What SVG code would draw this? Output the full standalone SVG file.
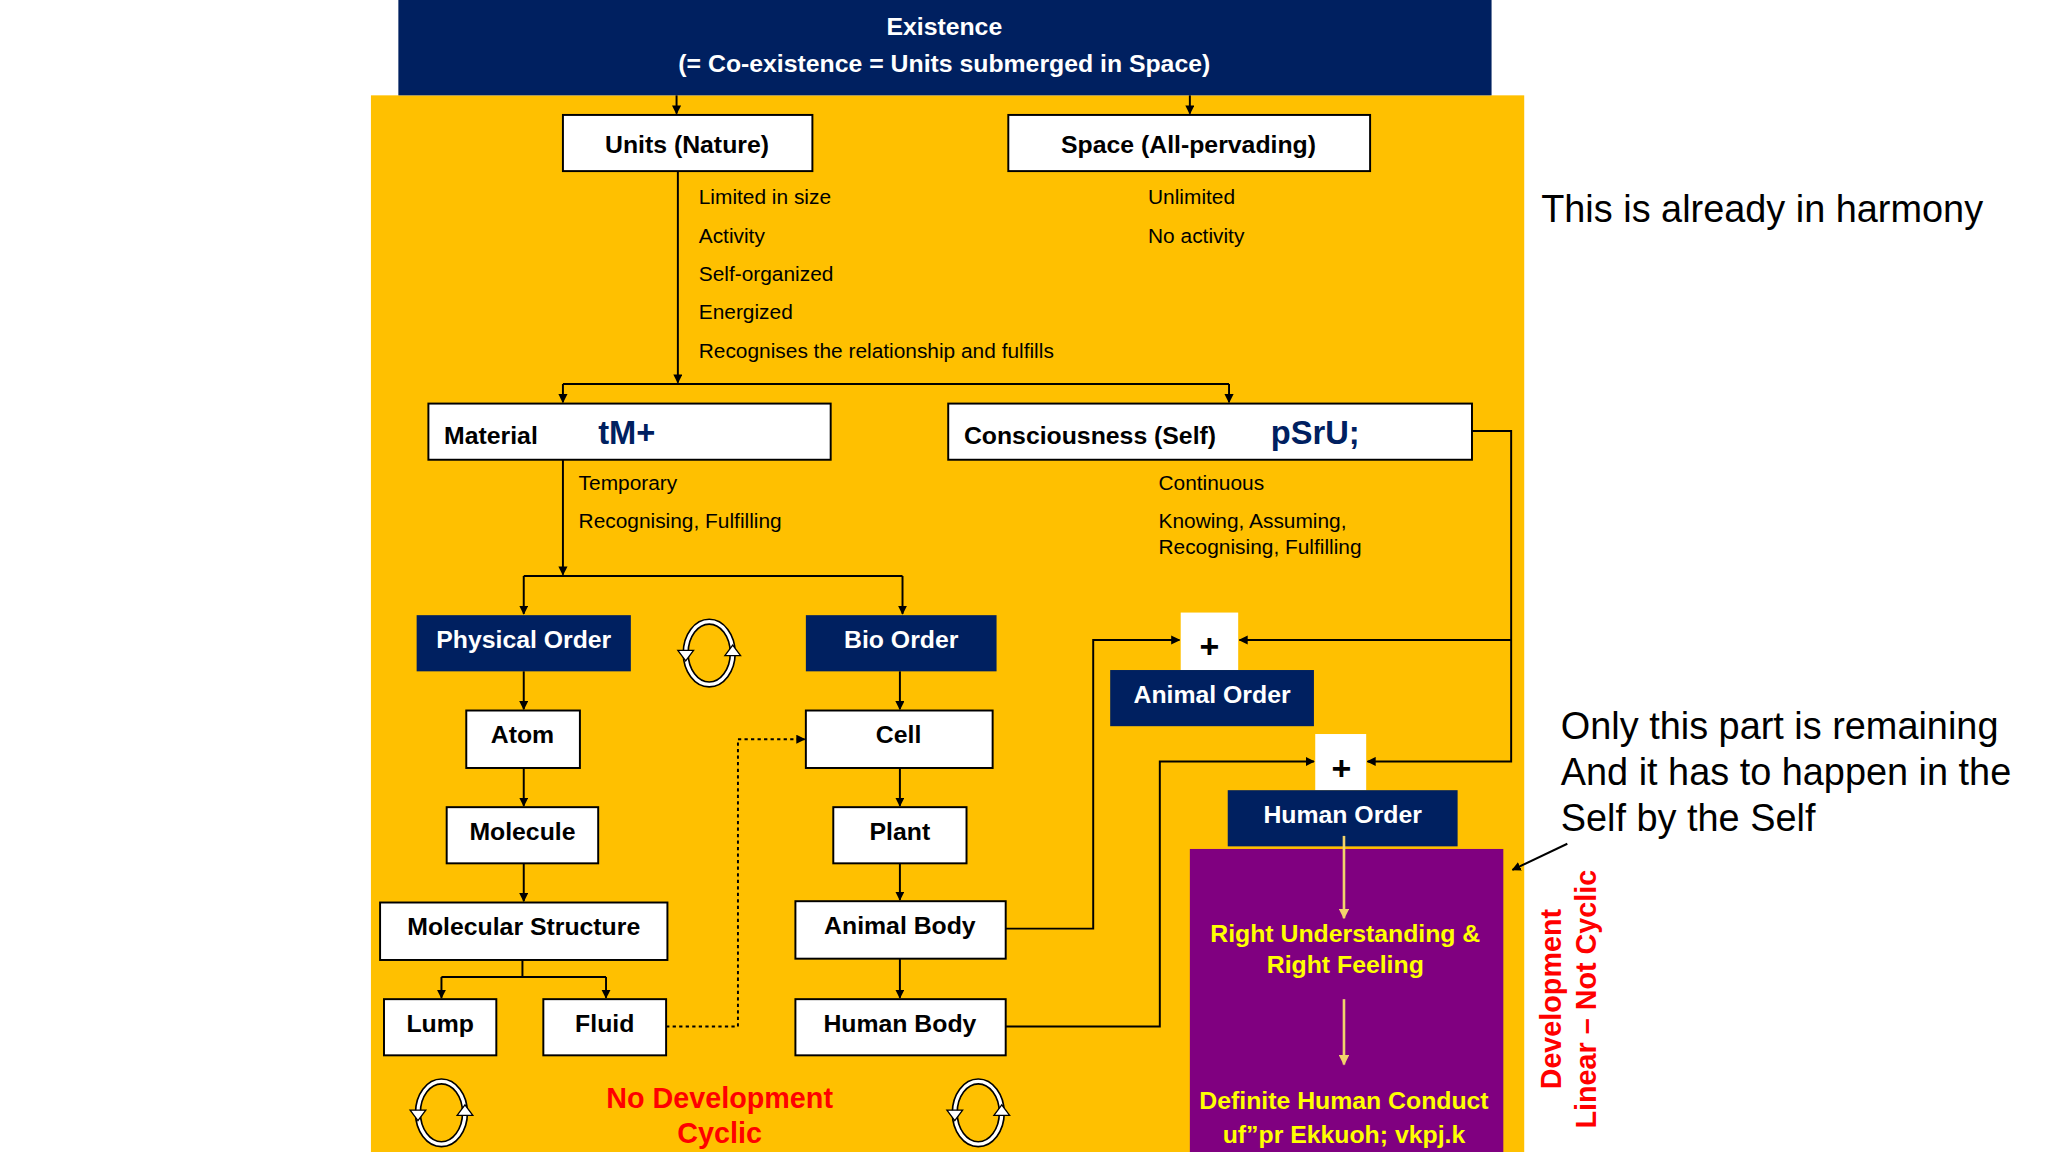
<svg xmlns="http://www.w3.org/2000/svg" width="2048" height="1152" viewBox="0 0 2048 1152">
<defs>
<marker id="ah" viewBox="0 0 10 10" refX="9" refY="5" markerWidth="7" markerHeight="7" markerUnits="userSpaceOnUse" orient="auto"><path d="M0,0 L10,5 L0,10 z" fill="#000"/></marker>
<marker id="ay" viewBox="0 0 10 10" refX="9" refY="5" markerWidth="8" markerHeight="8" markerUnits="userSpaceOnUse" orient="auto"><path d="M0,0 L10,5 L0,10 z" fill="#F2D36B"/></marker>
<g id="cyc">
<ellipse cx="0" cy="0" rx="18" ry="24" fill="none" stroke="#000" stroke-width="5"/>
<ellipse cx="0" cy="0" rx="18" ry="24" fill="none" stroke="#fff" stroke-width="2.5"/>
<path d="M-24,-2 L-12,-2 L-18,6 z" fill="#fff" stroke="#000" stroke-width="1"/>
<path d="M24,2 L12,2 L18,-6 z" fill="#fff" stroke="#000" stroke-width="1"/>
</g>
</defs>
<style>
text{font-family:"Liberation Sans",Arial,sans-serif}
.wb{fill:#fff;stroke:#000;stroke-width:1.5}
.nv{fill:#002060}
.bl{font-weight:bold;font-size:19px;fill:#000}
.wt{font-weight:bold;font-size:19px;fill:#fff}
.sm{font-size:16px;fill:#000}
.ln{fill:none;stroke:#000;stroke-width:1.5}
.yl{font-weight:bold;font-size:19px;fill:#FFFF00}
.rd{font-weight:bold;font-size:22px;fill:#FF0000}
.bg{font-size:29px;fill:#000}
</style>
<rect width="2048" height="1152" fill="#fff"/>
<g transform="scale(1.3061)">
<rect x="284" y="73" width="883" height="812" fill="#FFC000"/>
<g id="existence"><rect x="305" y="0" width="837" height="73" class="nv"/>
<text x="723" y="27" text-anchor="middle" class="wt" font-size="21">Existence</text>
<text x="723" y="55" text-anchor="middle" class="wt" font-size="21">(= Co-existence = Units submerged in Space)</text></g>
<g id="units"><rect x="431" y="88" width="191" height="43" class="wb"/><text x="526" y="117" text-anchor="middle" class="bl" font-size="22">Units (Nature)</text>
<text class="sm" x="535" y="156">Limited in size</text><text class="sm" x="535" y="186">Activity</text><text class="sm" x="535" y="215">Self-organized</text><text class="sm" x="535" y="244">Energized</text><text class="sm" x="535" y="274">Recognises the relationship and fulfills</text></g>
<g id="space"><rect x="772" y="88" width="277" height="43" class="wb"/><text x="910" y="117" text-anchor="middle" class="bl" font-size="22">Space (All-pervading)</text>
<text class="sm" x="879" y="156">Unlimited</text><text class="sm" x="879" y="186">No activity</text></g>
<g id="material"><rect x="328" y="309" width="308" height="43" class="wb"/><text x="340" y="340" class="bl">Material</text><text x="458" y="340" font-weight="bold" font-size="25" fill="#002060">tM+</text>
<text class="sm" x="443" y="375">Temporary</text><text class="sm" x="443" y="404">Recognising, Fulfilling</text></g>
<g id="consciousness"><rect x="726" y="309" width="401" height="43" class="wb"/><text x="738" y="340" class="bl">Consciousness (Self)</text><text x="973" y="340" font-weight="bold" font-size="25" fill="#002060">pSrU;</text>
<text class="sm" x="887" y="375">Continuous</text><text class="sm" x="887" y="404">Knowing, Assuming,</text><text class="sm" x="887" y="424">Recognising, Fulfilling</text></g>
<g id="physical"><rect x="319" y="471" width="164" height="43" class="nv"/><text x="401" y="496" text-anchor="middle" class="wt">Physical Order</text></g>
<g id="bio"><rect x="617" y="471" width="146" height="43" class="nv"/><text x="690" y="496" text-anchor="middle" class="wt">Bio Order</text></g>
<g id="atom"><rect x="357" y="544" width="87" height="44" class="wb"/><text x="400" y="569" text-anchor="middle" class="bl">Atom</text></g>
<g id="molecule"><rect x="342" y="618" width="116" height="43" class="wb"/><text x="400" y="643" text-anchor="middle" class="bl">Molecule</text></g>
<g id="molstruct"><rect x="291" y="691" width="220" height="44" class="wb"/><text x="401" y="716" text-anchor="middle" class="bl">Molecular Structure</text></g>
<g id="lump"><rect x="294" y="765" width="86" height="43" class="wb"/><text x="337" y="790" text-anchor="middle" class="bl">Lump</text></g>
<g id="fluid"><rect x="416" y="765" width="94" height="43" class="wb"/><text x="463" y="790" text-anchor="middle" class="bl">Fluid</text></g>
<g id="cell"><rect x="617" y="544" width="143" height="44" class="wb"/><text x="688" y="569" text-anchor="middle" class="bl">Cell</text></g>
<g id="plant"><rect x="638" y="618" width="102" height="43" class="wb"/><text x="689" y="643" text-anchor="middle" class="bl">Plant</text></g>
<g id="animalbody"><rect x="609" y="690" width="161" height="44" class="wb"/><text x="689" y="715" text-anchor="middle" class="bl">Animal Body</text></g>
<g id="humanbody"><rect x="609" y="765" width="161" height="43" class="wb"/><text x="689" y="790" text-anchor="middle" class="bl">Human Body</text></g>
<g id="animalorder"><rect x="904" y="469" width="44" height="44" fill="#fff"/><text x="926" y="504" text-anchor="middle" font-size="26" font-weight="bold">+</text>
<rect x="850" y="513" width="156" height="43" class="nv"/><text x="928" y="538" text-anchor="middle" class="wt">Animal Order</text></g>
<g id="humanorder"><rect x="1007" y="562" width="39" height="43" fill="#fff"/><text x="1027" y="597" text-anchor="middle" font-size="26" font-weight="bold">+</text>
<rect x="940" y="605" width="176" height="43" class="nv"/><text x="1028" y="630" text-anchor="middle" class="wt">Human Order</text></g>
<g id="development"><rect x="911" y="650" width="240" height="235" fill="#800080"/>
<text x="1030" y="721" text-anchor="middle" class="yl">Right Understanding &amp;</text><text x="1030" y="745" text-anchor="middle" class="yl">Right Feeling</text>
<text x="1029" y="849" text-anchor="middle" class="yl">Definite Human Conduct</text><text x="1029" y="875" text-anchor="middle" class="yl" font-size="23">uf”pr Ekkuoh; vkpj.k</text></g>
<g id="connectors">
<path class="ln" d="M518,73 V87" marker-end="url(#ah)"/>
<path class="ln" d="M911,73 V87" marker-end="url(#ah)"/>
<path class="ln" d="M519,131 V293" marker-end="url(#ah)"/>
<path class="ln" d="M431,294 H941"/>
<path class="ln" d="M431,294 V308" marker-end="url(#ah)"/>
<path class="ln" d="M941,294 V308" marker-end="url(#ah)"/>
<path class="ln" d="M431,352 V440" marker-end="url(#ah)"/>
<path class="ln" d="M401,441 H691"/>
<path class="ln" d="M401,441 V470" marker-end="url(#ah)"/>
<path class="ln" d="M691,441 V470" marker-end="url(#ah)"/>
<path class="ln" d="M401,514 V543" marker-end="url(#ah)"/>
<path class="ln" d="M401,588 V617" marker-end="url(#ah)"/>
<path class="ln" d="M401,661 V690" marker-end="url(#ah)"/>
<path class="ln" d="M400,735 V748 M338,748 H464"/>
<path class="ln" d="M338,748 V764" marker-end="url(#ah)"/>
<path class="ln" d="M464,748 V764" marker-end="url(#ah)"/>
<path class="ln" d="M689,514 V543" marker-end="url(#ah)"/>
<path class="ln" d="M689,588 V617" marker-end="url(#ah)"/>
<path class="ln" d="M689,661 V689" marker-end="url(#ah)"/>
<path class="ln" d="M689,734 V764" marker-end="url(#ah)"/>
<path class="ln" d="M510,786 H565 V566 H616" stroke-width="2.5" stroke-dasharray="2.5,2.5" marker-end="url(#ah)"/>
<path class="ln" d="M1127,330 H1157 V583 H1047" marker-end="url(#ah)"/>
<path class="ln" d="M1157,490 H949" marker-end="url(#ah)"/>
<path class="ln" d="M770,711 H837 V490 H903" marker-end="url(#ah)"/>
<path class="ln" d="M770,786 H888 V583 H1006" marker-end="url(#ah)"/>
<path fill="none" stroke="#F2D36B" stroke-width="2" d="M1029,640 V703" marker-end="url(#ay)"/>
<path fill="none" stroke="#F2D36B" stroke-width="2" d="M1029,765 V815" marker-end="url(#ay)"/>
<path class="ln" d="M1200,646 L1158,666" marker-end="url(#ah)"/>
</g>
<use href="#cyc" x="543" y="500"/>
<use href="#cyc" x="338" y="852"/>
<use href="#cyc" x="749" y="852"/>
<text x="551" y="848" text-anchor="middle" class="rd">No Development</text>
<text x="551" y="875" text-anchor="middle" class="rd">Cyclic</text>
<text transform="translate(1195,765) rotate(-90)" text-anchor="middle" class="rd">Development</text>
<text transform="translate(1222,765) rotate(-90)" text-anchor="middle" class="rd">Linear – Not Cyclic</text>
<text x="1180" y="170" class="bg">This is already in harmony</text>
<text x="1195" y="566" class="bg">Only this part is remaining</text>
<text x="1195" y="601" class="bg">And it has to happen in the</text>
<text x="1195" y="636" class="bg">Self by the Self</text>
</g>
</svg>
